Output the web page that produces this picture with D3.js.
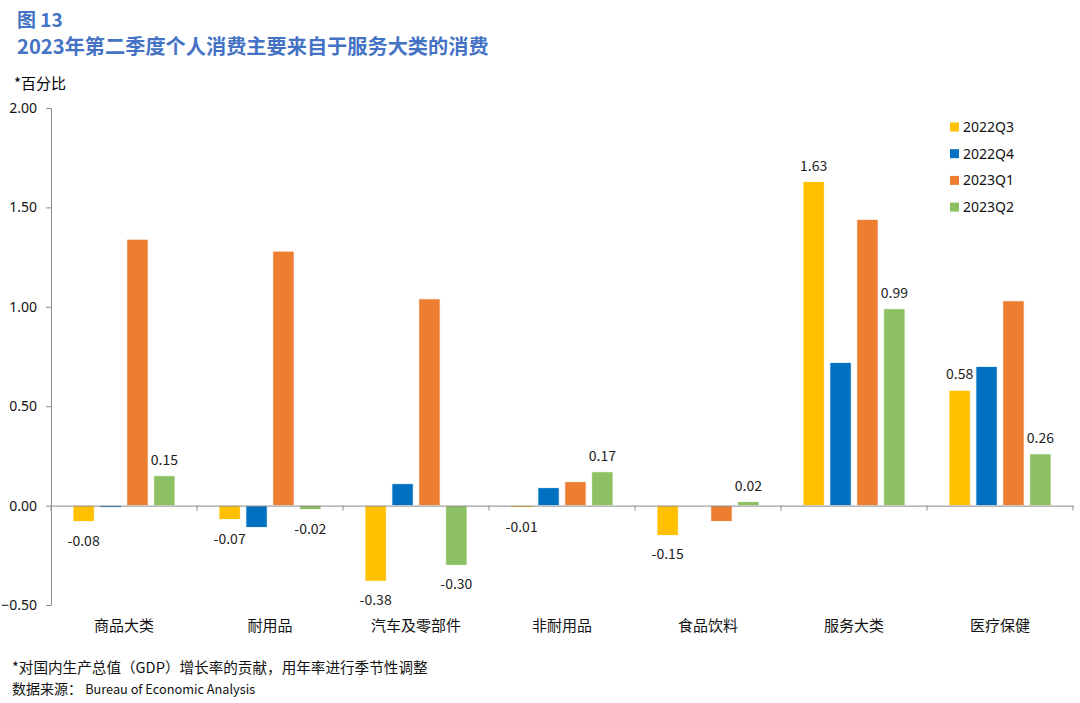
<!DOCTYPE html>
<html>
<head>
<meta charset="utf-8">
<script src="https://cdn.jsdelivr.net/npm/d3@7"></script>
<style>
  body { margin: 0; background: #fff; }
  svg { display: block; font-family: "Noto Sans CJK SC", "Noto Sans", sans-serif; }
</style>
</head>
<body>
<svg id="chart" width="1080" height="703"></svg>
<script>
"use strict";

// 类别与系列
const categories = ["商品大类", "耐用品", "汽车及零部件", "非耐用品", "食品饮料", "服务大类", "医疗保健"];
const seriesNames = ["2022Q3", "2022Q4", "2023Q1", "2023Q2"];
const seriesColors = ["#FFC000", "#0070C0", "#ED7D31", "#8DC063"];
// 各季度数值（按类别顺序）
const q2022Q3 = [-0.08, -0.07, -0.38, -0.01, -0.15, 1.63, 0.58];
const q2022Q4 = [-0.01, -0.11, 0.11, 0.09, 0.00, 0.72, 0.70];
const q2023Q1 = [1.34, 1.28, 1.04, 0.12, -0.08, 1.44, 1.03];
const q2023Q2 = [0.15, -0.02, -0.30, 0.17, 0.02, 0.99, 0.26];
const yTicks = [-0.5, 0, 0.5, 1, 1.5, 2];
// 只有首尾两个系列显示数据标签
const labelled = ["2022Q3", "2023Q2"];

const values = [q2022Q3, q2022Q4, q2023Q1, q2023Q2];

const svg = d3.select("#chart");
const margin = { top: 108, right: 7, bottom: 98, left: 51 };
const width = 1080, height = 703;

const x0 = d3.scaleBand().domain(categories).range([margin.left, width - margin.right]).padding(0);
const x1 = d3.scaleBand().domain(seriesNames).range([22, x0.bandwidth() - 22]).paddingInner(0.21);
const y = d3.scaleLinear().domain([-0.5, 2]).range([height - margin.bottom, margin.top]);

// 标题
svg.append("text").attr("x", 17).attr("y", 27)
    .style("font-size", "19px").style("font-weight", "bold").style("fill", "#4472C4")
    .text("图 13");
svg.append("text").attr("x", 17).attr("y", 54)
    .style("font-size", "20.2px").style("font-weight", "bold").style("fill", "#4472C4")
    .text("2023年第二季度个人消费主要来自于服务大类的消费");
svg.append("text").attr("x", 14).attr("y", 89)
    .style("font-size", "15px").style("fill", "#000")
    .text("*百分比");

// 数据整理
const rows = categories.map((c, i) => ({
    cat: c,
    items: seriesNames.map((s, j) => ({ series: s, value: values[j][i], color: seriesColors[j] }))
}));

const groups = svg.append("g").selectAll("g").data(rows).join("g")
    .attr("transform", d => "translate(" + x0(d.cat) + ",0)");

groups.selectAll("rect").data(d => d.items).join("rect")
    .attr("x", d => x1(d.series))
    .attr("width", x1.bandwidth())
    .attr("y", d => y(Math.max(0, d.value)))
    .attr("height", d => Math.abs(y(d.value) - y(0)))
    .style("fill", d => d.color)
    .style("stroke", "#fff")
    .style("stroke-width", 0.8);

groups.selectAll(".lbl").data(d => d.items.filter(it => labelled.includes(it.series))).join("text")
    .attr("class", "lbl")
    .attr("text-anchor", "middle")
    .attr("x", d => x1(d.series) + x1.bandwidth() / 2)
    .attr("y", d => d.value >= 0 ? y(d.value) - 11 : y(d.value) + 24)
    .style("font-size", "14px")
    .style("fill", "#222")
    .text(d => d.value.toFixed(2));

// 坐标轴
const yAxis = svg.append("g").attr("transform", "translate(" + margin.left + ",0)")
    .call(d3.axisLeft(y).tickValues(yTicks).tickSize(5).tickFormat(d3.format(".2f")));
yAxis.select(".domain").attr("stroke", "#8c8c8c");
yAxis.selectAll(".tick line").attr("stroke", "#8c8c8c");
yAxis.selectAll(".tick text").attr("x", -14).style("font-size", "14px").style("fill", "#111")
    .style("font-family", "'Noto Sans', sans-serif");

const xAxis = svg.append("g").attr("transform", "translate(0," + y(0) + ")")
    .call(d3.axisBottom(x0).tickSize(0).tickFormat(""));
xAxis.select(".domain").attr("stroke", "#8c8c8c");
// 类别分隔刻度
svg.append("g").selectAll("line").data(categories.concat(["end"])).join("line")
    .attr("x1", (d, i) => margin.left + i * x0.step())
    .attr("x2", (d, i) => margin.left + i * x0.step())
    .attr("y1", y(0)).attr("y2", y(0) + 5)
    .attr("stroke", "#8c8c8c");

svg.append("g").selectAll("text").data(categories).join("text")
    .attr("x", d => x0(d) + x0.bandwidth() / 2)
    .attr("y", 631)
    .attr("text-anchor", "middle")
    .style("font-size", "15px")
    .style("fill", "#111")
    .text(d => d);

// 图例
const legend = svg.append("g").attr("transform", "translate(950,127)");
const lg = legend.selectAll("g").data(seriesNames).join("g")
    .attr("transform", (d, i) => "translate(0," + i * 26.7 + ")");
lg.append("rect").attr("x", 0).attr("y", -4.5).attr("width", 9).attr("height", 9)
    .style("fill", (d, i) => seriesColors[i]);
lg.append("text").attr("x", 13).attr("y", 5).style("font-size", "14px").style("fill", "#111")
    .style("font-family", "'Noto Sans', sans-serif")
    .text(d => d);

// 注释
svg.append("text").attr("x", 12).attr("y", 673).style("font-size", "14.6px").style("fill", "#111")
    .text("*对国内生产总值（GDP）增长率的贡献，用年率进行季节性调整");
const src = svg.append("text").attr("x", 12).attr("y", 694).style("font-size", "14px").style("fill", "#111");
src.append("tspan").text("数据来源：  ");
src.append("tspan").style("font-size", "13px").attr("textLength", 170).attr("lengthAdjust", "spacingAndGlyphs")
    .text("Bureau of Economic Analysis");
</script>
</body>
</html>
